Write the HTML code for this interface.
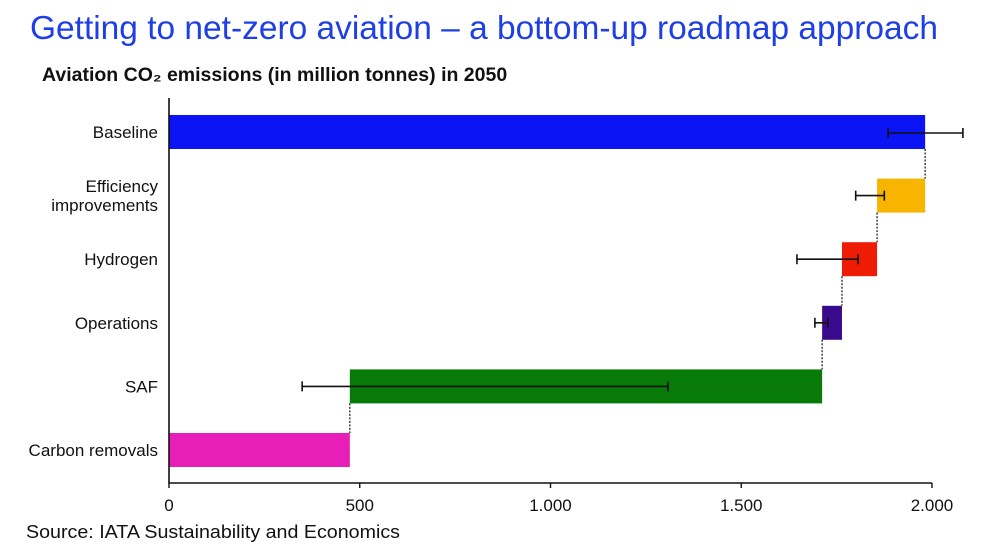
<!DOCTYPE html>
<html><head><meta charset="utf-8"><style>
body{margin:0;background:#fff;width:1000px;height:549px;overflow:hidden;font-family:"Liberation Sans",sans-serif}
svg text{font-family:"Liberation Sans",sans-serif}
</style></head><body>
<svg width="1000" height="549">
<text x="30" y="39" font-size="33" fill="#1f3fe6" textLength="908" lengthAdjust="spacingAndGlyphs">Getting to net-zero aviation – a bottom-up roadmap approach</text>
<text x="42" y="81" font-size="19.5" font-weight="bold" fill="#111">Aviation CO₂ emissions (in million tonnes) in 2050</text>
<text x="26" y="538" font-size="18" fill="#111" textLength="374" lengthAdjust="spacingAndGlyphs">Source: IATA Sustainability and Economics</text>
<g id="plot"></g>
</svg>
<script>
const categories=["Baseline","Efficiency|improvements","Hydrogen","Operations","SAF","Carbon removals"];
const barStart=[0,1856,1764,1712,474,0];
const barEnd=[1982,1982,1856,1764,1712,474];
const errLow=[1885,1800,1646,1693,349,null];
const errHigh=[2081,1875,1806,1727,1308,null];
const colors=["#0a14f5","#f7b500","#ee1c05","#3a0a8c","#087a08","#e81eb8"];
const ticks=[0,500,1000,1500,2000];
const tickLabels=["0","500","1.000","1.500","2.000"];
const NS="http://www.w3.org/2000/svg";
const g=document.getElementById('plot');
const x=v=>169+v*(932-169)/2000;
const yc=i=>132+i*63.6;
const H=34;
function el(t,a){const e=document.createElementNS(NS,t);for(const k in a)e.setAttribute(k,a[k]);g.appendChild(e);return e;}
categories.forEach((c,i)=>{
  const r=el('rect',{x:x(barStart[i]),y:yc(i)-H/2,width:x(barEnd[i])-x(barStart[i]),height:H,fill:colors[i]});
  
  
  const parts=c.split('|');
  parts.forEach((p,k)=>{
    const t=el('text',{x:158,y:yc(i)+6+(k-(parts.length-1)/2)*19,'text-anchor':'end','font-size':17,fill:'#111'});
    t.textContent=p;
    
    
  });
  if(errLow[i]!=null){
    const y=yc(i)+(i==0?1:0);
    const eg=el('path',{d:`M${x(errLow[i])},${y}H${x(errHigh[i])}M${x(errLow[i])},${y-5}v10M${x(errHigh[i])},${y-5}v10`,stroke:'#111','stroke-width':1.6,fill:'none'});
    
    
  }
  if(i>0){
    const xv=x(barEnd[i]);
    const cn=el('line',{x1:xv,x2:xv,y1:yc(i-1)+H/2,y2:yc(i)-H/2,stroke:'#111','stroke-width':1.2,'stroke-dasharray':'2,1.5'});
    
    
  }
});
const ax=el('path',{d:'M169,98V483H932',stroke:'#111','stroke-width':1.6,fill:'none'});


ticks.forEach((v,i)=>{
  el('line',{x1:x(v),x2:x(v),y1:483,y2:488,stroke:'#111','stroke-width':1.4});
  const t=el('text',{x:x(v),y:511,'text-anchor':'middle','font-size':17,fill:'#111'});
  t.textContent=tickLabels[i];
  
  
});
</script>
</body></html>
